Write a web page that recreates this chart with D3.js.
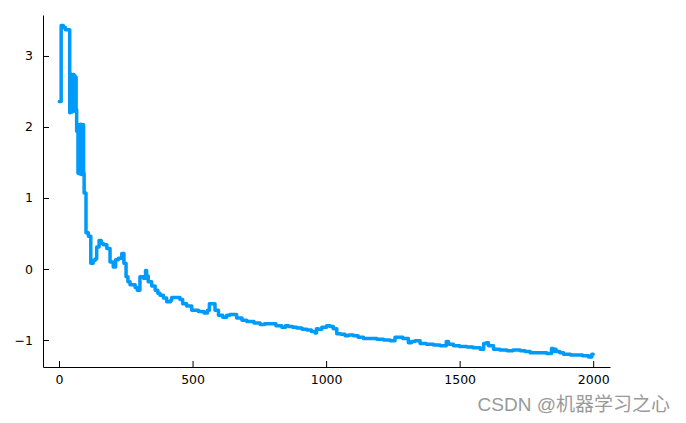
<!DOCTYPE html>
<html>
<head>
<meta charset="utf-8">
<script src="https://cdn.jsdelivr.net/npm/d3@7"></script>
<style>
    body { margin: 0; background: #fff; }
    .axis text { font-family: "DejaVu Sans", sans-serif; font-size: 12.5px; fill: #000; }
    .axis path, .axis line { stroke: #000; }
    .mark { font-family: "Liberation Sans", "Noto Sans CJK SC", sans-serif; font-size: 19px; fill: #999; }
</style>
</head>
<body>
<div class="content"></div>
<script>
// step breakpoints: iteration -> value
let steps = [1, 8, 16, 24, 40, 42, 44, 46, 48, 50, 52, 54, 56, 58, 60, 62, 64, 66,
    69, 71, 73, 75, 77, 79, 81, 83, 85, 87, 89, 92, 94, 101, 110, 119, 128, 135, 141, 150, 158,
    166, 179, 191, 203, 212, 222, 235, 243, 251, 258, 266, 285, 293, 303, 316, 324, 328,
    334, 347, 360, 370, 378, 391, 403, 418, 422, 441, 453, 463, 478, 497, 522, 543, 556,
    563, 578, 584, 597, 613, 628, 640, 665, 685, 703, 730, 753, 770, 790, 812, 834, 848,
    859, 875, 890, 910, 928, 945, 959, 964, 971, 984, 1002, 1015, 1027, 1040, 1055, 1071,
    1084, 1102, 1120, 1140, 1165, 1190, 1215, 1240, 1258, 1287, 1308, 1320, 1333, 1352,
    1375, 1402, 1427, 1450, 1458, 1477, 1500, 1527, 1550, 1577, 1590, 1600, 1608, 1627,
    1650, 1677, 1700, 1727, 1745, 1764, 1795, 1826, 1844, 1850, 1855, 1861, 1875, 1889,
    1915, 1939, 1960, 1983, 1995, 2000];
let values = [2.36, 3.43, 3.40, 3.37, 2.20, 2.75, 2.22, 2.74, 2.21, 2.73, 2.25, 2.74, 2.23, 2.72, 2.22, 2.70, 2.25, 1.94,
    2.04, 1.35, 2.03, 1.34, 2.02, 1.40, 2.04, 1.33, 2.00, 1.36, 2.03, 1.35, 1.07, 0.51, 0.46, 0.08, 0.12, 0.14, 0.31, 0.40, 0.36,
    0.34, 0.29, 0.10, 0.03, 0.13, 0.15, 0.22, 0.08, -0.11, -0.18, -0.22, -0.26, -0.30, -0.11, -0.13, -0.02, -0.10,
    -0.18, -0.24, -0.30, -0.34, -0.37, -0.41, -0.46, -0.44, -0.40, -0.40, -0.43, -0.49, -0.52, -0.58, -0.60, -0.62, -0.58,
    -0.49, -0.49, -0.58, -0.65, -0.68, -0.65, -0.64, -0.69, -0.72, -0.74, -0.76, -0.78, -0.77, -0.77, -0.80, -0.82, -0.80,
    -0.81, -0.82, -0.83, -0.85, -0.86, -0.88, -0.90, -0.84, -0.85, -0.82, -0.80, -0.81, -0.84, -0.91, -0.92, -0.94,
    -0.93, -0.94, -0.96, -0.98, -0.98, -0.99, -1.00, -1.01, -0.96, -0.98, -1.04, -1.02, -1.01, -1.05,
    -1.06, -1.07, -1.08, -1.02, -1.06, -1.08, -1.09, -1.10, -1.11, -1.13, -1.05, -1.04, -1.08, -1.13,
    -1.14, -1.15, -1.14, -1.15, -1.16, -1.18, -1.18, -1.19, -1.12, -1.16, -1.13, -1.16, -1.18, -1.20,
    -1.21, -1.21, -1.22, -1.24, -1.20, -1.20];
let xTicks = [0, 500, 1000, 1500, 2000];
let yTicks = [-1, 0, 1, 2, 3];

(function () {
    let W = 686, H = 423;
    let plot = {left: 43, right: 610, top: 15, bottom: 367};

    let data = steps.map(function (s, i) { return {x: s, y: values[i]}; });

    let xScale = d3.scaleLinear().domain([-60, 2063]).range([plot.left, plot.right]);
    let yScale = d3.scaleLinear().domain([-1.38, 3.577]).range([plot.bottom, plot.top]);

    let svg = d3.select('.content').append('svg')
        .attr('width', W)
        .attr('height', H);

    svg.append('rect').attr('width', W).attr('height', H).attr('fill', '#fff');

    let xAxis = d3.axisBottom(xScale)
        .tickValues(xTicks)
        .tickFormat(d3.format('d'))
        .tickSizeInner(-6)
        .tickSizeOuter(0)
        .tickPadding(8);

    let yAxis = d3.axisLeft(yScale)
        .tickValues(yTicks)
        .tickFormat(function (d) { return d < 0 ? '\u2212' + Math.abs(d) : d; })
        .tickSizeInner(-6)
        .tickSizeOuter(0)
        .tickPadding(10);

    svg.append('g')
        .attr('class', 'x axis')
        .attr('transform', 'translate(0,' + plot.bottom + ')')
        .call(xAxis);

    svg.append('g')
        .attr('class', 'y axis')
        .attr('transform', 'translate(' + plot.left + ',0)')
        .call(yAxis);

    let line = d3.line()
        .curve(d3.curveStepAfter)
        .x(function (d) { return xScale(d.x); })
        .y(function (d) { return yScale(d.y); });

    svg.append('path')
        .datum(data)
        .attr('fill', 'none')
        .attr('stroke', '#009afa')
        .attr('stroke-width', 3.5)
        .attr('stroke-linejoin', 'round')
        .attr('stroke-linecap', 'round')
        .attr('d', line);

    // watermark
    svg.append('text')
        .attr('class', 'mark')
        .attr('x', 670)
        .attr('y', 411)
        .attr('text-anchor', 'end')
        .text('CSDN @机器学习之心');
})();
</script>
</body>
</html>
